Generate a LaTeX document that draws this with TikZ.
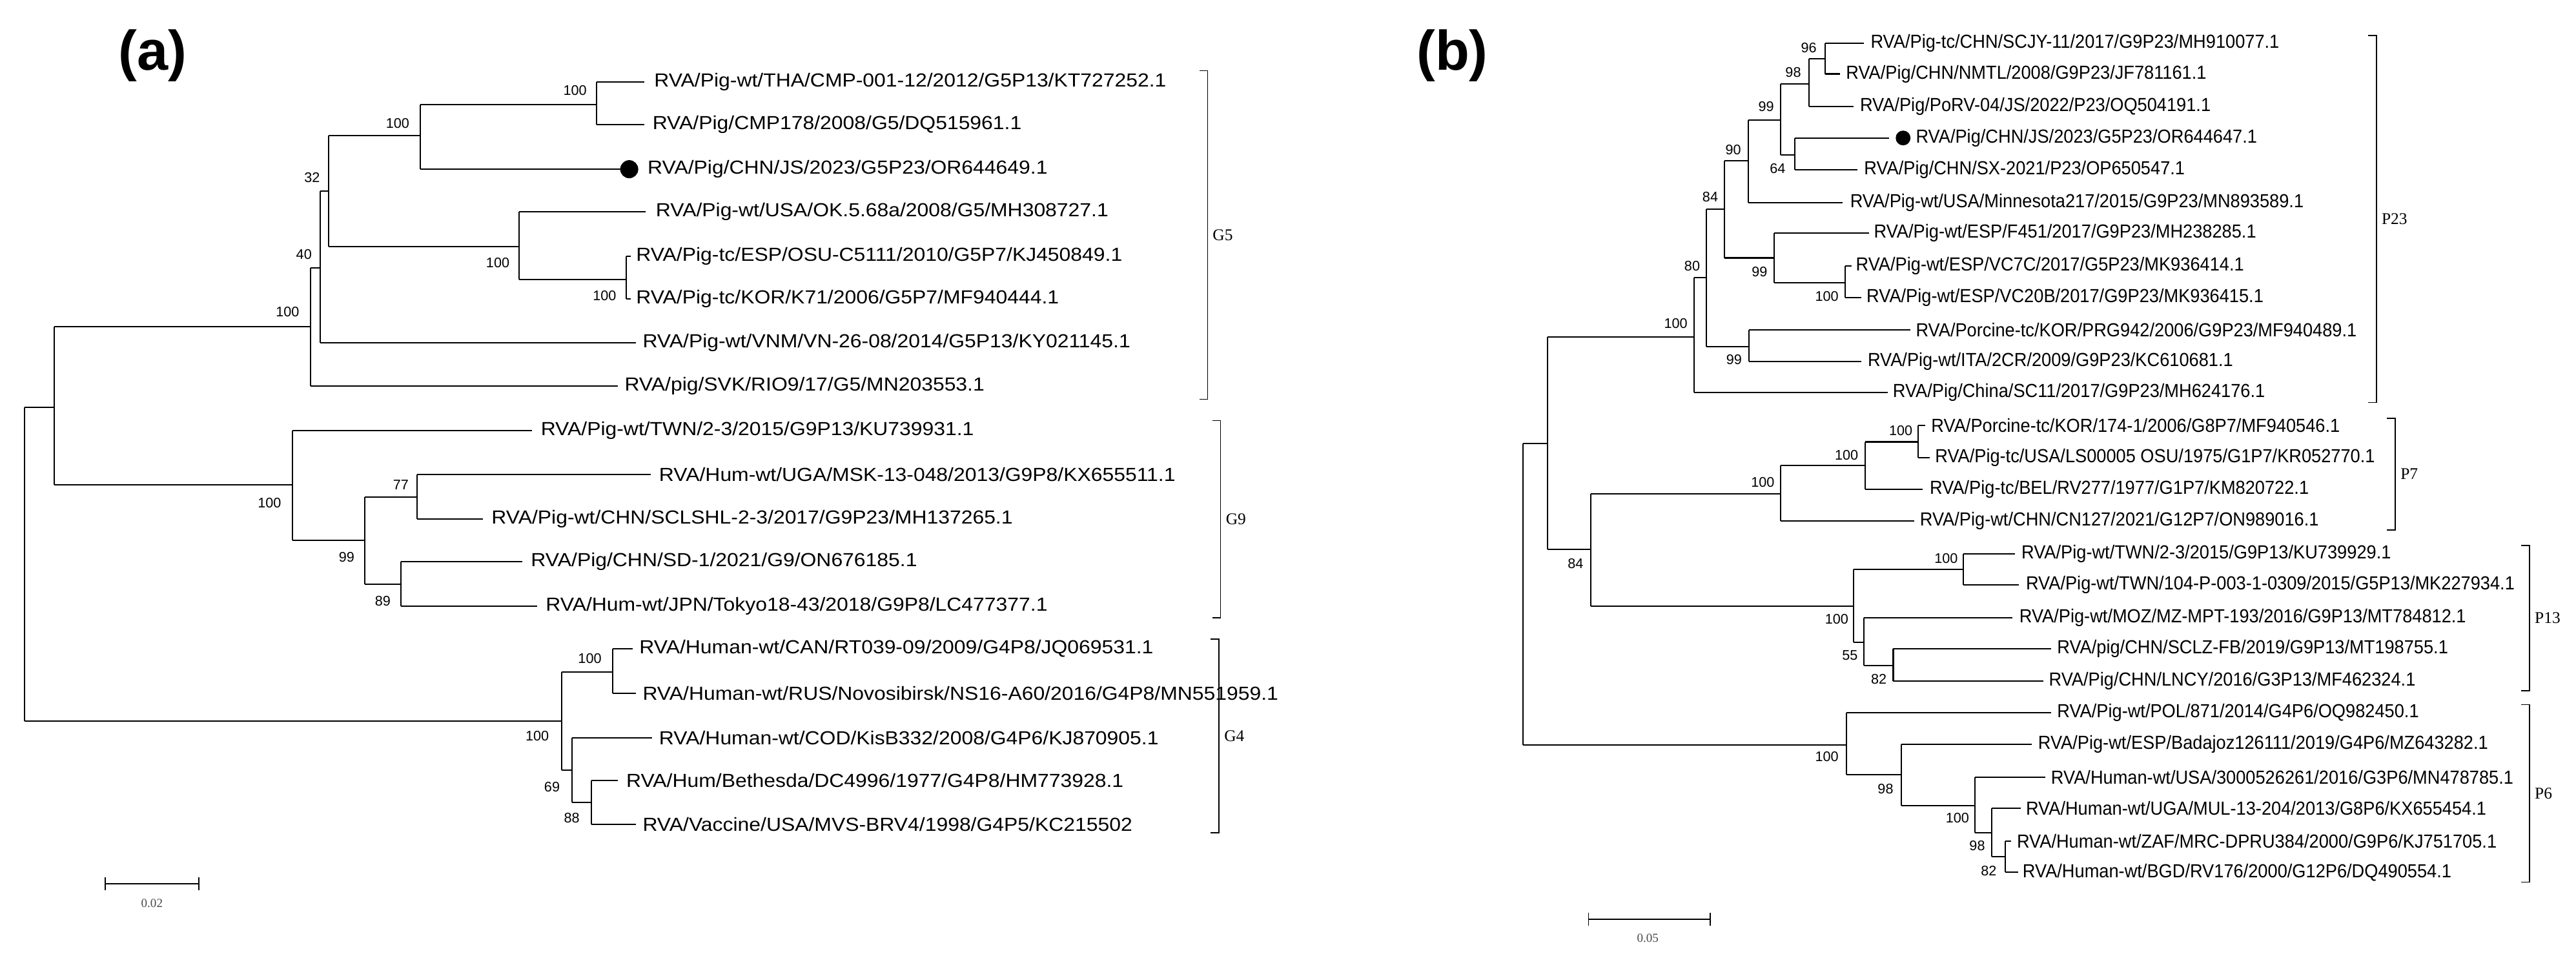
\documentclass[tikz,border=0pt]{standalone}
\usepackage{fontspec}
\setmainfont{Liberation Serif}
\newfontfamily\lsans{Liberation Sans}
\newcommand\tipl[5]{\draw[br] (#2,#1) -- (#3,#1); \node[lab] at (#4,#1) {#5};}
\newcommand\vln[3]{\draw[br] (#1,#2) -- (#1,#3);}
\newcommand\hln[3]{\draw[br] (#2,#1) -- (#3,#1);}
\newcommand\bsl[3]{\node[bsf] at (#1,#2) {#3};}
\newcommand\brk[4]{\draw[brkst] (#1-5,#2) -- (#1,#2) -- (#1,#3) -- (#1-5,#3); \node[grp,anchor=west] at (#1+3,{(#2+#3)/2}) {#4};}
\begin{document}
\begin{tikzpicture}[x=1pt,y=-1pt,
  br/.style={line width=0.8pt},
  brkst/.style={line width=0.6pt},
  lab/.style={anchor=west,inner sep=0pt,font=\lsans\fontsize{11.5}{12}\selectfont},
  bsf/.style={inner sep=0pt,font=\lsans\fontsize{8.5}{9}\selectfont},
  grp/.style={inner sep=0pt,font=\fontsize{10}{11}\selectfont},
  pan/.style={inner sep=0pt,font=\lsans\bfseries\fontsize{34}{36}\selectfont}]
\useasboundingbox[fill=white] (0,0) rectangle (1568,583);
% ===== panel (a) =====
\begin{scope}[lab/.append style={xscale=1.09}]
\node[pan] (pa) at (93,34) {(a)};
\vln{15}{248}{439}
\hln{248}{15}{33}
\vln{33}{199}{295}
\hln{199}{33}{189}\bsl{175}{190}{100}
\vln{189}{163}{235}
\hln{163}{189}{195}\bsl{185}{155}{40}
\vln{195}{116.5}{208.5}
\hln{116.5}{195}{200}\bsl{190}{108}{32}
\vln{200}{82.6}{150}
\hln{82.6}{200}{256}\bsl{242}{75}{100}
\vln{256}{63.5}{103}
\hln{63.5}{256}{363}\bsl{350}{55}{100}
\vln{363}{50}{76}
\tipl{50}{363}{392}{398}{RVA/Pig-wt/THA/CMP-001-12/2012/G5P13/KT727252.1}
\tipl{76}{363}{392}{397}{RVA/Pig/CMP178/2008/G5/DQ515961.1}
\tipl{103}{256}{378}{394}{RVA/Pig/CHN/JS/2023/G5P23/OR644649.1}
\fill (383,103) circle (5.5);
\hln{150}{200}{316}\bsl{303}{160}{100}
\vln{316}{129}{170}
\tipl{129}{316}{393}{399}{RVA/Pig-wt/USA/OK.5.68a/2008/G5/MH308727.1}
\hln{170}{316}{381}\bsl{368}{180}{100}
\vln{381}{156}{182}
\tipl{156}{381}{384}{387}{RVA/Pig-tc/ESP/OSU-C5111/2010/G5P7/KJ450849.1}
\tipl{182}{381}{384}{387}{RVA/Pig-tc/KOR/K71/2006/G5P7/MF940444.1}
\tipl{208.5}{195}{387}{391}{RVA/Pig-wt/VNM/VN-26-08/2014/G5P13/KY021145.1}
\tipl{235}{189}{376}{380}{RVA/pig/SVK/RIO9/17/G5/MN203553.1}
\hln{295}{33}{178}\bsl{164}{306}{100}
\vln{178}{262}{329}
\tipl{262}{178}{324}{329}{RVA/Pig-wt/TWN/2-3/2015/G9P13/KU739931.1}
\hln{329}{178}{222}\bsl{211}{339}{99}
\vln{222}{302.6}{355.5}
\hln{302.6}{222}{254}\bsl{244}{295}{77}
\vln{254}{289}{316}
\tipl{289}{254}{396}{401}{RVA/Hum-wt/UGA/MSK-13-048/2013/G9P8/KX655511.1}
\tipl{316}{254}{294}{299}{RVA/Pig-wt/CHN/SCLSHL-2-3/2017/G9P23/MH137265.1}
\hln{355.5}{222}{244}\bsl{233}{366}{89}
\vln{244}{342}{369}
\tipl{342}{244}{318}{323}{RVA/Pig/CHN/SD-1/2021/G9/ON676185.1}
\tipl{369}{244}{327}{332}{RVA/Hum-wt/JPN/Tokyo18-43/2018/G9P8/LC477377.1}
\hln{439}{15}{342}\bsl{327}{448}{100}
\vln{342}{409}{469}
\hln{409}{342}{373}\bsl{359}{401}{100}
\vln{373}{395}{422}
\tipl{395}{373}{385}{389}{RVA/Human-wt/CAN/RT039-09/2009/G4P8/JQ069531.1}
\tipl{422}{373}{387}{391}{RVA/Human-wt/RUS/Novosibirsk/NS16-A60/2016/G4P8/MN551959.1}
\hln{469}{342}{348}\bsl{336}{479}{69}
\vln{348}{449}{488.6}
\tipl{449}{348}{397}{401}{RVA/Human-wt/COD/KisB332/2008/G4P6/KJ870905.1}
\hln{488.6}{348}{360}\bsl{348}{498}{88}
\vln{360}{475}{502}
\tipl{475}{360}{376}{381}{RVA/Hum/Bethesda/DC4996/1977/G4P8/HM773928.1}
\tipl{502}{360}{387}{391}{RVA/Vaccine/USA/MVS-BRV4/1998/G4P5/KC215502}
\draw[brkst] (64,534) -- (64,542) (64,538) -- (121,538) (121,534) -- (121,542);
\node[inner sep=0pt,font=\fontsize{7.5}{8}\selectfont,text=black!70] at (92.5,550) {0.02};
\brk{735}{43}{243}{G5}
\brk{743}{256}{376}{G9}
\brk{742}{389}{507}{G4}
\end{scope}
% ===== panel (b) =====
\begin{scope}[lab/.append style={xscale=0.93}]
\node[pan] (pb) at (884,34) {(b)};
\vln{927}{270}{453.4}
\hln{270}{927}{942}
\vln{942}{205}{334.5}
\hln{205}{942}{1031}\bsl{1020}{197}{100}
\vln{1031}{169}{239}
\tipl{239}{1031}{1149}{1152}{RVA/Pig/China/SC11/2017/G9P23/MH624176.1}
\hln{169}{1031}{1038.5}\bsl{1030}{162}{80}
\vln{1038.5}{127.5}{211}
\hln{127.5}{1038.5}{1049.5}\bsl{1041}{120}{84}
\vln{1049.5}{98}{157}
\hln{98}{1049.5}{1064}\bsl{1055}{91}{90}
\vln{1064}{73}{123.5}
\tipl{123.5}{1064}{1121.5}{1126}{RVA/Pig-wt/USA/Minnesota217/2015/G9P23/MN893589.1}
\hln{73}{1064}{1084}\bsl{1075}{65}{99}
\vln{1084}{51}{94.4}
\hln{51}{1084}{1101}\bsl{1091.5}{44}{98}
\vln{1101}{35.7}{65}
\tipl{65}{1101}{1128.4}{1132}{RVA/Pig/PoRV-04/JS/2022/P23/OQ504191.1}
\hln{35.7}{1101}{1111}\bsl{1101}{29}{96}
\vln{1111}{26.3}{45}
\tipl{26.3}{1111}{1134.4}{1138.5}{RVA/Pig-tc/CHN/SCJY-11/2017/G9P23/MH910077.1}
\tipl{45}{1111}{1120}{1123.5}{RVA/Pig/CHN/NMTL/2008/G9P23/JF781161.1}
\hln{94.4}{1084}{1092.4}\bsl{1082}{102.5}{64}
\vln{1092.4}{84}{103.4}
\tipl{84}{1092.4}{1150}{1166}{RVA/Pig/CHN/JS/2023/G5P23/OR644647.1}
\fill (1158.4,84) circle (4.5);
\tipl{103.4}{1092.4}{1130.7}{1134.5}{RVA/Pig/CHN/SX-2021/P23/OP650547.1}
\hln{157}{1049.5}{1080}\bsl{1071}{165.5}{99}
\vln{1080}{142}{172}
\tipl{142}{1080}{1137.6}{1140.5}{RVA/Pig-wt/ESP/F451/2017/G9P23/MH238285.1}
\hln{172}{1080}{1123}\bsl{1112}{180.5}{100}
\vln{1123}{162}{181}
\tipl{162}{1123}{1127}{1129.5}{RVA/Pig-wt/ESP/VC7C/2017/G5P23/MK936414.1}
\tipl{181}{1123}{1133}{1136}{RVA/Pig-wt/ESP/VC20B/2017/G9P23/MK936415.1}
\hln{211}{1038.5}{1064.7}\bsl{1055.5}{219}{99}
\vln{1064.7}{201}{220}
\tipl{201}{1064.7}{1163}{1166}{RVA/Porcine-tc/KOR/PRG942/2006/G9P23/MF940489.1}
\tipl{220}{1064.7}{1133}{1136.7}{RVA/Pig-wt/ITA/2CR/2009/G9P23/KC610681.1}
\hln{334.5}{942}{968.4}\bsl{959}{343}{84}
\vln{968.4}{300.5}{369}
\hln{300.5}{968.4}{1083.7}\bsl{1073}{293.5}{100}
\vln{1083.7}{283.5}{317}
\tipl{317}{1083.7}{1165}{1168.5}{RVA/Pig-wt/CHN/CN127/2021/G12P7/ON989016.1}
\hln{283.5}{1083.7}{1135.3}\bsl{1124}{277}{100}
\vln{1135.3}{269}{298}
\tipl{298}{1135.3}{1170.4}{1174.5}{RVA/Pig-tc/BEL/RV277/1977/G1P7/KM820722.1}
\hln{269}{1135.3}{1167.5}\bsl{1157}{262}{100}
\vln{1167.5}{259}{278.5}
\tipl{259}{1167.5}{1172}{1175.4}{RVA/Porcine-tc/KOR/174-1/2006/G8P7/MF940546.1}
\tipl{278.5}{1167.5}{1174.5}{1177.7}{RVA/Pig-tc/USA/LS00005 OSU/1975/G1P7/KR052770.1}
\hln{369}{968.4}{1128.4}\bsl{1118}{377}{100}
\vln{1128.4}{346.7}{391}
\hln{346.7}{1128.4}{1195.2}\bsl{1184.6}{340}{100}
\vln{1195.2}{337}{356}
\tipl{337}{1195.2}{1226.6}{1230.3}{RVA/Pig-wt/TWN/2-3/2015/G9P13/KU739929.1}
\tipl{356}{1195.2}{1229}{1233}{RVA/Pig-wt/TWN/104-P-003-1-0309/2015/G5P13/MK227934.1}
\hln{391}{1128.4}{1134.4}\bsl{1126}{399}{55}
\vln{1134.4}{376}{405.3}
\tipl{376}{1134.4}{1225}{1229}{RVA/Pig-wt/MOZ/MZ-MPT-193/2016/G9P13/MT784812.1}
\hln{405.3}{1134.4}{1152.4}\bsl{1143.6}{413.5}{82}
\vln{1152.4}{395}{414.5}
\tipl{395}{1152.4}{1248.3}{1252}{RVA/pig/CHN/SCLZ-FB/2019/G9P13/MT198755.1}
\tipl{414.5}{1152.4}{1243.6}{1247}{RVA/Pig/CHN/LNCY/2016/G3P13/MF462324.1}
\hln{453.4}{927}{1123.8}\bsl{1112}{460.7}{100}
\vln{1123.8}{434}{471.5}
\tipl{434}{1123.8}{1248.3}{1252}{RVA/Pig-wt/POL/871/2014/G4P6/OQ982450.1}
\hln{471.5}{1123.8}{1157.4}\bsl{1147.7}{480.3}{98}
\vln{1157.4}{453}{490.6}
\tipl{453}{1157.4}{1236.7}{1240.4}{RVA/Pig-wt/ESP/Badajoz126111/2019/G4P6/MZ643282.1}
\hln{490.6}{1157.4}{1202.2}\bsl{1191.5}{498}{100}
\vln{1202.2}{473}{507}
\tipl{473}{1202.2}{1245}{1248.3}{RVA/Human-wt/USA/3000526261/2016/G3P6/MN478785.1}
\hln{507}{1202.2}{1212.3}\bsl{1203.5}{515}{98}
\vln{1212.3}{492}{521.6}
\tipl{492}{1212.3}{1230}{1233}{RVA/Human-wt/UGA/MUL-13-204/2013/G8P6/KX655454.1}
\hln{521.6}{1212.3}{1220.6}\bsl{1210.5}{530}{82}
\vln{1220.6}{512}{531}
\tipl{512}{1220.6}{1224}{1227.5}{RVA/Human-wt/ZAF/MRC-DPRU384/2000/G9P6/KJ751705.1}
\tipl{531}{1220.6}{1228.4}{1231}{RVA/Human-wt/BGD/RV176/2000/G12P6/DQ490554.1}
\draw[brkst] (967,555.5) -- (967,563.5) (967,559.5) -- (1041,559.5) (1041,555.5) -- (1041,563.5);
\node[inner sep=0pt,font=\fontsize{7.5}{8}\selectfont,text=black!70] at (1003,571) {0.05};
\brk{1446.5}{21.6}{245}{P23}
\brk{1458}{254.7}{322.7}{P7}
\brk{1539.7}{332}{420.4}{P13}
\brk{1539.7}{429}{537}{P6}
\end{scope}
\end{tikzpicture}
\end{document}
